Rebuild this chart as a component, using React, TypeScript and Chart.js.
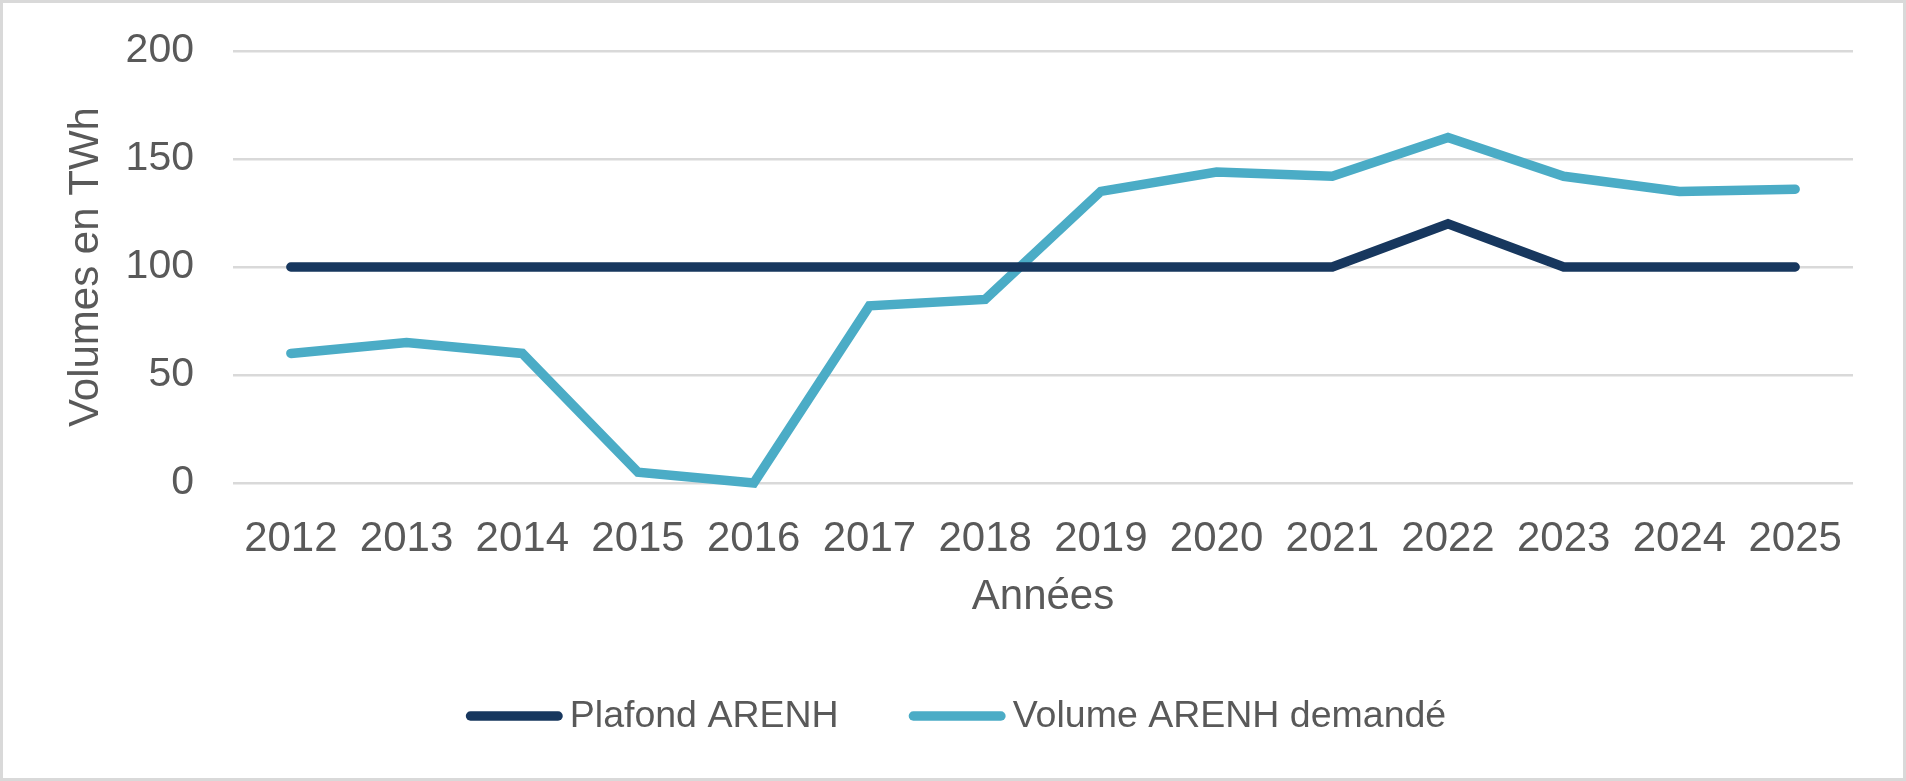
import React, { useEffect, useRef } from "react";
import Chart from "chart.js/auto";

// Années et volumes (TWh)
const years = [
  "2012", "2013", "2014", "2015", "2016", "2017", "2018",
  "2019", "2020", "2021", "2022", "2023", "2024", "2025",
];
const plafondArenh = [100, 100, 100, 100, 100, 100, 100, 100, 100, 100, 120, 100, 100, 100];
const volumeDemande = [60, 65, 60, 5, 0, 82, 85, 135, 144, 142, 160, 142, 135, 136];
const yTickValues = [0, 50, 100, 150, 200];

const FONT = "'Liberation Sans', Arial, sans-serif";
const TEXT = "#595959";
const GRID = "#d9d9d9";
const NAVY = "#17375e";
const AQUA = "#4bacc6";

// draws white background and the light grey frame round the picture
const framePlugin = {
  id: "frame",
  beforeDraw(chart: any) {
    const { ctx, width, height } = chart;
    ctx.save();
    ctx.fillStyle = "#ffffff";
    ctx.fillRect(0, 0, width, height);
    ctx.restore();
  },
  afterDraw(chart: any) {
    const { ctx, width, height } = chart;
    ctx.save();
    ctx.strokeStyle = GRID;
    ctx.lineWidth = 3;
    ctx.strokeRect(1.5, 1.5, width - 3, height - 3);
    ctx.restore();
  },
};

// Excel-like legend: line sample then label, centred below the axis title
const legendPlugin = {
  id: "bottomLegend",
  afterDraw(chart: any) {
    const { ctx } = chart;
    const sample = 97;
    const gap = 7;
    const spacing = 70;
    const centerX = 956;
    const y = 717;
    ctx.save();
    ctx.font = `37.5px ${FONT}`;
    const items = chart.data.datasets.map((ds: any) => ({
      label: ds.label as string,
      color: ds.borderColor as string,
      width: sample + gap + ctx.measureText(ds.label).width,
    }));
    const total =
      items.reduce((s: number, it: any) => s + it.width, 0) + spacing * (items.length - 1);
    let x = centerX - total / 2;
    items.forEach((it: any) => {
      ctx.strokeStyle = it.color;
      ctx.lineWidth = 9.5;
      ctx.lineCap = "round";
      ctx.beginPath();
      ctx.moveTo(x + 4.75, y - 1);
      ctx.lineTo(x + sample - 4.75, y - 1);
      ctx.stroke();
      ctx.fillStyle = TEXT;
      ctx.textAlign = "left";
      ctx.textBaseline = "middle";
      ctx.fillText(it.label, x + sample + gap, y);
      x += it.width + spacing;
    });
    ctx.restore();
  },
};

const App: React.FC = () => {
  const chartRef = useRef<HTMLCanvasElement | null>(null);
  const chartInstance = useRef<Chart | null>(null);

  useEffect(() => {
    document.body.style.margin = "0";
    if (!chartRef.current) return;
    const ctx = chartRef.current.getContext("2d");
    if (!ctx) return;

    if (chartInstance.current) {
      chartInstance.current.destroy();
    }

    chartInstance.current = new Chart(ctx, {
      type: "line",
      data: {
        labels: years,
        datasets: [
          {
            label: "Plafond ARENH",
            data: plafondArenh,
            borderColor: NAVY,
            backgroundColor: NAVY,
            borderWidth: 9.5,
            borderCapStyle: "round",
            pointRadius: 0,
            tension: 0,
            clip: false,
          },
          {
            label: "Volume ARENH demandé",
            data: volumeDemande,
            borderColor: AQUA,
            backgroundColor: AQUA,
            borderWidth: 9.5,
            borderCapStyle: "round",
            pointRadius: 0,
            tension: 0,
            clip: false,
          },
        ],
      },
      options: {
        responsive: true,
        maintainAspectRatio: false,
        animation: false,
        layout: {
          padding: { left: 0, top: 51, right: 53, bottom: 0 },
        },
        plugins: {
          legend: { display: false },
          tooltip: { enabled: false },
        },
        scales: {
          x: {
            offset: true,
            grid: { display: false },
            border: { display: false },
            ticks: {
              color: TEXT,
              padding: 23,
              maxRotation: 0,
              autoSkip: false,
              font: { family: FONT, size: 42 },
            },
            title: {
              display: true,
              text: "Années",
              color: TEXT,
              font: { family: FONT, size: 42 },
              padding: { top: 0, bottom: 158 },
            },
            afterFit: (scale: any) => {
              scale.height = 298;
            },
          },
          y: {
            min: yTickValues[0],
            max: yTickValues[yTickValues.length - 1],
            grid: { color: GRID, lineWidth: 2.5, drawTicks: false },
            border: { display: false },
            ticks: {
              stepSize: yTickValues[1] - yTickValues[0],
              color: TEXT,
              padding: 39,
              font: { family: FONT, size: 41 },
            },
            title: {
              display: true,
              text: "Volumes en TWh",
              color: TEXT,
              font: { family: FONT, size: 42 },
              padding: { top: 61, bottom: 0 },
            },
            afterFit: (scale: any) => {
              // fixed axis width; the plot top comes from layout padding only
              scale.width = 233;
              scale.paddingTop = 0;
              scale.paddingBottom = 0;
            },
          },
        },
      },
      plugins: [framePlugin, legendPlugin],
    });

    return () => {
      if (chartInstance.current) {
        chartInstance.current.destroy();
        chartInstance.current = null;
      }
    };
  }, []);

  return (
    <div style={{ width: "1906px", height: "781px", position: "relative" }}>
      <canvas ref={chartRef} />
    </div>
  );
};

export default App;
